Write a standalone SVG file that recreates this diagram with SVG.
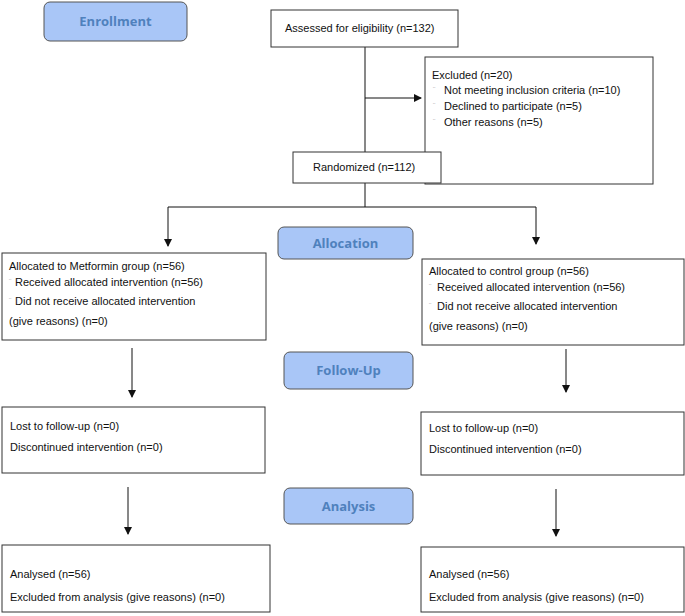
<svg xmlns="http://www.w3.org/2000/svg" width="685" height="616" viewBox="0 0 685 616">
<style>
.b{fill:#fff;stroke:#333;stroke-width:1}
.p{fill:#a9c6f7;stroke:#555;stroke-width:1}
.pt{font-family:"Open Sans","DejaVu Sans",sans-serif;font-size:13px;font-weight:bold;fill:#4f81bd;text-anchor:middle}
text{font-family:"Liberation Sans",Arial,sans-serif;font-size:11px;fill:#111}
.bu{font-size:7px;fill:#666}
.c{stroke:#111;stroke-width:1;fill:none}
</style>
<defs><marker id="a" markerWidth="8" markerHeight="8" refX="7" refY="4" orient="auto" markerUnits="userSpaceOnUse"><path d="M0,0L8,4L0,8z" fill="#111"/></marker></defs>
<g id="connectors">
<path class="c" d="M365,47V207"/>
<path class="c" d="M365,98H421" marker-end="url(#a)"/>
<path class="c" d="M168,207H536"/>
<path class="c" d="M168,207V246" marker-end="url(#a)"/>
<path class="c" d="M536,207V244" marker-end="url(#a)"/>
<path class="c" d="M132,348V397" marker-end="url(#a)"/>
<path class="c" d="M566,349V392" marker-end="url(#a)"/>
<path class="c" d="M128,487V534" marker-end="url(#a)"/>
<path class="c" d="M556,489V536" marker-end="url(#a)"/>
</g>
<g id="enrollment"><rect class="p" x="44" y="2" width="143" height="39" rx="6"/><text class="pt" x="115.5" y="26">Enrollment</text></g>
<g id="allocation"><rect class="p" x="278" y="227" width="135" height="32" rx="6"/><text class="pt" x="345.5" y="248">Allocation</text></g>
<g id="followup"><rect class="p" x="284" y="352" width="129" height="37" rx="6"/><text class="pt" x="348.5" y="375">Follow-Up</text></g>
<g id="analysis"><rect class="p" x="284" y="488" width="129" height="36" rx="6"/><text class="pt" x="348.5" y="511">Analysis</text></g>
<g id="assessed"><rect class="b" x="271" y="10" width="187" height="37"/><text x="285" y="32">Assessed for eligibility (n=132)</text></g>
<g id="excluded"><rect class="b" x="425" y="57" width="228" height="127"/>
<text x="432" y="79">Excluded (n=20)</text>
<text class="bu" x="433" y="92">¨</text><text x="444" y="94">Not meeting inclusion criteria (n=10)</text>
<text class="bu" x="433" y="108">¨</text><text x="444" y="110">Declined to participate (n=5)</text>
<text class="bu" x="433" y="124">¨</text><text x="444" y="126">Other reasons (n=5)</text></g>
<g id="randomized"><rect class="b" x="293" y="152" width="148" height="31"/><text x="313" y="171">Randomized (n=112)</text></g>
<g id="alloc-left"><rect class="b" x="2" y="253" width="264" height="87"/>
<text x="9" y="270">Allocated to Metformin group (n=56)</text>
<text class="bu" x="9" y="284">¨</text><text x="15" y="286">Received allocated intervention (n=56)</text>
<text class="bu" x="9" y="303">¨</text><text x="15" y="305">Did not receive allocated intervention</text>
<text x="9" y="325">(give reasons) (n=0)</text></g>
<g id="alloc-right"><rect class="b" x="422" y="259" width="262" height="86"/>
<text x="429" y="275">Allocated to control group (n=56)</text>
<text class="bu" x="429" y="289">¨</text><text x="437" y="291">Received allocated intervention (n=56)</text>
<text class="bu" x="429" y="308">¨</text><text x="437" y="310">Did not receive allocated intervention</text>
<text x="429" y="330">(give reasons) (n=0)</text></g>
<g id="follow-left"><rect class="b" x="2" y="407" width="263" height="66"/>
<text x="10" y="430">Lost to follow-up (n=0)</text><text x="10" y="451">Discontinued intervention (n=0)</text></g>
<g id="follow-right"><rect class="b" x="421" y="412" width="263" height="63"/>
<text x="429" y="432">Lost to follow-up (n=0)</text><text x="429" y="453">Discontinued intervention (n=0)</text></g>
<g id="analysis-left"><rect class="b" x="2" y="545" width="268" height="67"/>
<text x="10" y="578">Analysed (n=56)</text><text x="10" y="601">Excluded from analysis (give reasons) (n=0)</text></g>
<g id="analysis-right"><rect class="b" x="421" y="547" width="263" height="65"/>
<text x="429" y="578">Analysed (n=56)</text><text x="429" y="601">Excluded from analysis (give reasons) (n=0)</text></g>
</svg>
